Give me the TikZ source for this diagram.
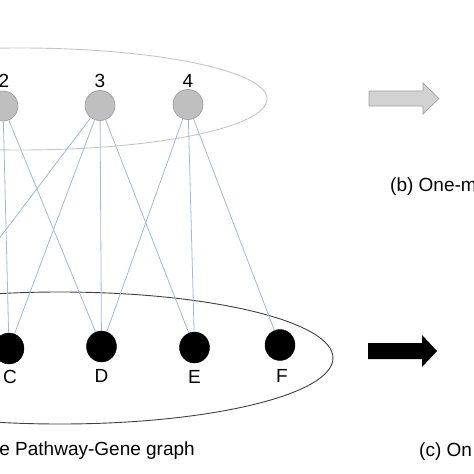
\documentclass[tikz,border=0pt]{standalone}
\usepackage{fontspec}
\setmainfont{Liberation Sans}
\usetikzlibrary{shapes.geometric}
\definecolor{edgeblue}{RGB}{158,186,212}
\begin{document}
\begin{tikzpicture}[x=1pt,y=-1pt,
  pnode/.style={circle,minimum size=30pt,inner sep=0pt,fill=gray!50,draw=gray!80,line width=0.6pt},
  gnode/.style={ellipse,minimum width=30pt,minimum height=31pt,inner sep=0pt,fill=black,draw=black},
  lbl/.style={font=\fontsize{19}{22}\selectfont,anchor=base,inner sep=0pt},
  pgedge/.style={draw=edgeblue,line width=0.8pt},
  captxt/.style={font=\fontsize{19}{22}\selectfont,inner sep=0pt}]
\useasboundingbox (0,0) rectangle (474,474);
\clip (0,0) rectangle (474,474);
% group ellipses
\draw[gray!45,line width=0.9pt] (20,99) ellipse [x radius=247, y radius=51];
\draw[black!75,line width=0.9pt] (60,358) ellipse [x radius=273, y radius=66];
% pathway nodes
\node[pnode] (p2) at (3,106) {};
\node[pnode] (p3) at (100,105.5) {};
\node[pnode] (p4) at (188,104.5) {};
\node[lbl] (l2) at (4,87) {2};
\node[lbl] (l3) at (100,87) {3};
\node[lbl] (l4) at (188,87) {4};
% gene nodes
\coordinate (gB) at (-83,347);
\node[gnode] (gC) at (9,348.5) {};
\node[gnode] (gD) at (101.5,346.5) {};
\node[gnode] (gE) at (194.5,347.5) {};
\node[gnode] (gF) at (280,345) {};
\node[lbl] (lC) at (10,383) {C};
\node[lbl] (lD) at (101.5,382) {D};
\node[lbl] (lE) at (194.5,383) {E};
\node[lbl] (lF) at (282,382) {F};
% edges
\draw[pgedge] (p2) -- (gC);
\draw[pgedge] (p2) -- (gD);
\draw[pgedge] (p3) -- (gB);
\draw[pgedge] (p3) -- (gC);
\draw[pgedge] (p3) -- (gD);
\draw[pgedge] (p3) -- (gE);
\draw[pgedge] (p4) -- (gD);
\draw[pgedge] (p4) -- (gE);
\draw[pgedge] (p4) -- (gF);
% block arrows
\draw[fill=gray!35,draw=gray!75,line width=0.7pt]
  (369,91) -- (423,91) -- (423,83) -- (439,98.5) -- (423,114) -- (423,106) -- (369,106) -- cycle;
\fill[black]
  (368,343) -- (422,343) -- (422,335) -- (437,351) -- (422,367) -- (422,359) -- (368,359) -- cycle;
% captions
\node[captxt,anchor=base west] (cb) at (390,191) {(b) One-m};
\node[captxt,anchor=base west] (cc) at (419,456) {(c) On};
\node[captxt,anchor=base east] (ca) at (195,455) {e Pathway-Gene graph};
\end{tikzpicture}
\end{document}
